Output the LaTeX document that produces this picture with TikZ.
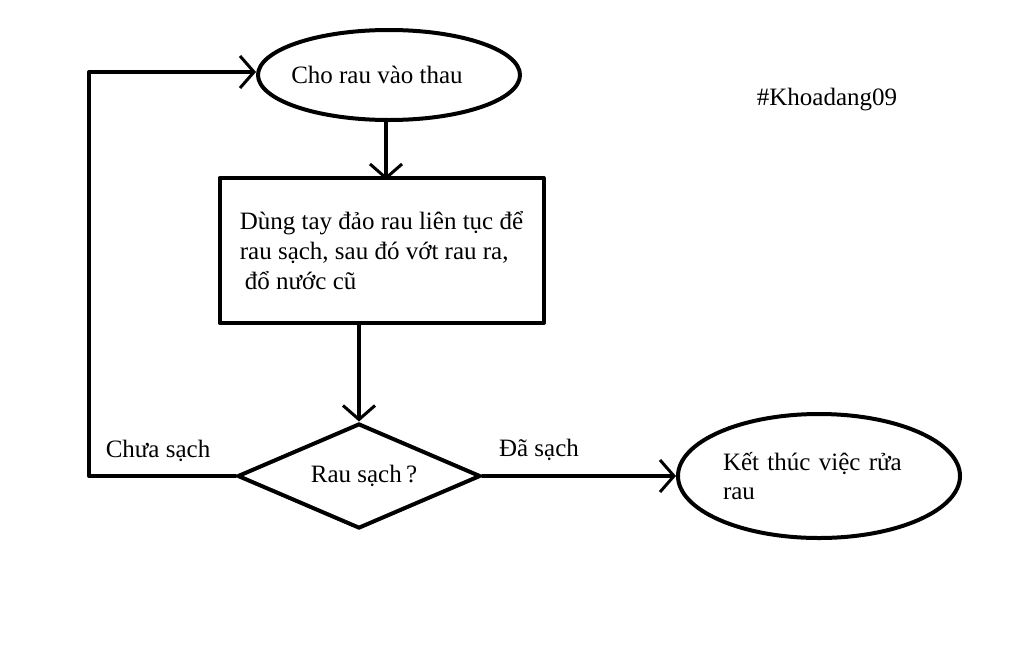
\documentclass[tikz,border=0pt]{standalone}
\usepackage{fontspec}
\setmainfont{Liberation Serif}
\usetikzlibrary{shapes.geometric,arrows.meta}
\begin{document}
\begin{tikzpicture}[x=1pt,y=-1pt,
  line/.style={line width=4pt, line join=round, line cap=round},
  arr/.style={line, -{Straight Barb[length=14pt,width=32pt,line width=3pt]}},
  lbl/.style={font=\fontsize{25}{28}\selectfont, inner sep=0pt},
  shapebox/.style={line, draw, font=\fontsize{25}{29}\selectfont}]
\useasboundingbox[fill=white] (0,0) rectangle (1024,648);
\node[shapebox, ellipse, minimum width=262pt, minimum height=90pt, inner xsep=-30pt, inner ysep=0pt] (e1) at (389,75) {\hspace*{-24pt}Cho rau vào thau};
\node[shapebox, rectangle, minimum width=324pt, minimum height=145pt, inner sep=0pt, align=left, font=\fontsize{25}{30}\selectfont] (box) at (381.5,250.5)
  {Dùng tay đảo rau liên tục để\\rau sạch, sau đó vớt rau ra,\\\hspace*{5pt}đổ nước cũ};
\node[shapebox, diamond, aspect=2.3, minimum width=243pt, minimum height=105pt, inner sep=0pt] (dia) at (359,476) {\hspace*{10pt}Rau sạch\,?};
\node[shapebox, ellipse, minimum width=282pt, minimum height=124pt, inner sep=0pt, text width=192pt, align=left] (e2) at (819,476)
  {Kết thúc việc rửa\\rau};
\coordinate (corner) at (89,476);
\node[lbl] (no) at (158,451) {Chưa sạch};
\node[lbl] (yes) at (539,450) {Đã sạch};
\node[lbl] (tag) at (827,100) {\#Khoadang09};
\draw[arr] (e1.south) ++(-3,0) -- ++(0,58);
\draw[arr] (box.south -| dia.north) -- (dia.north);
\draw[arr] (dia.west) -- (corner) |- ([yshift=3pt]e1.west);
\draw[arr] (dia.east) -- (e2.west);
\end{tikzpicture}
\end{document}
